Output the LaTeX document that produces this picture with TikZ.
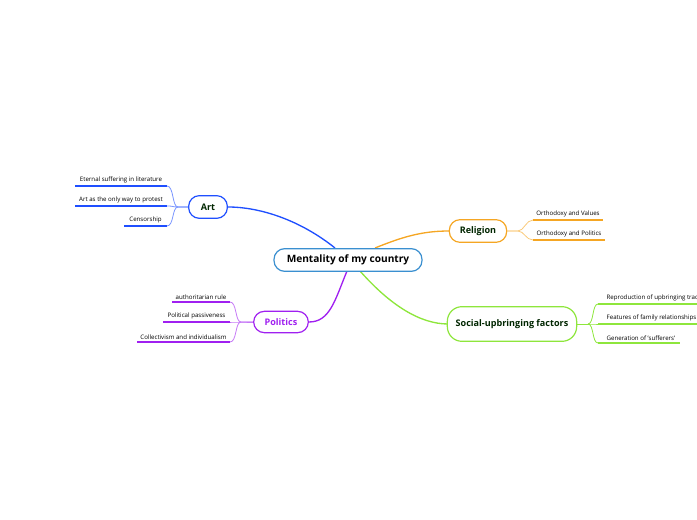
\documentclass[tikz,border=0pt]{standalone}
\usepackage{fontspec}
\setmainfont{Open Sans}
\begin{document}
\begin{tikzpicture}[x=0.75pt,y=-0.75pt,
 main/.style={draw=#1,rounded corners=8pt,line width=0.9pt,fill=white,font=\bfseries\fontsize{6.8}{8}\selectfont,text=black!70!green!50!black,inner sep=0pt},
 leaf/.style={font=\fontsize{4.6}{5.5}\selectfont,anchor=south,inner sep=1.8pt},
 ul/.style={draw=#1,line width=1.2pt},
 br/.style={draw=#1,line width=0.6pt}]
\useasboundingbox (0,0) rectangle (697,520);
\definecolor{cA}{HTML}{1F4FFF}\definecolor{cR}{HTML}{F5A623}
\definecolor{cS}{HTML}{8EE63C}\definecolor{cP}{HTML}{A020F0}\definecolor{cC}{HTML}{3A8FD0}
% main connectors
\coordinate (ca) at (335,248); \coordinate (cr) at (375,248);
\coordinate (cs) at (360,271); \coordinate (cp) at (347,271);
\draw[cA,line width=1pt] (ca) .. controls (300,220) and (260,207) .. (228,207);
\draw[cR,line width=1pt] (cr) .. controls (400,238) and (420,231) .. (449,231);
\draw[cS,line width=1pt] (cs) .. controls (390,305) and (420,324) .. (448,324);
\draw[cP,line width=1pt] (cp) .. controls (335,300) and (330,322) .. (309,322);
\node[main=cC] (c) at (348,260) [minimum width=111pt,minimum height=17pt,font=\bfseries\fontsize{7.6}{9}\selectfont,text=black] {Mentality of my country};
\node[main=cA,minimum width=29pt,minimum height=17pt] (art) at (208,207) {Art};
\node[main=cR,minimum width=43pt,minimum height=17pt] (rel) at (478,231) {Religion};
\node[main=cS,minimum width=97pt,minimum height=26pt,rounded corners=11pt] (soc) at (512,324) {Social-upbringing factors};
\node[main=cP,minimum width=41pt,minimum height=16pt,text=cP] (pol) at (281,322) {Politics};
% Art leaves
\coordinate (ab) at (178,207);
\foreach \y/\l/\t in {186/75/Eternal suffering in literature,206/75/Art as the only way to protest,226/124/Censorship}{
 \draw[br=cA!60] (art.west) -- (ab) .. controls (172,207) and (174,\y) .. (167,\y);
 \draw[ul=cA] (167,\y) -- (\l,\y);
 \node[leaf] at ({(167+\l)/2},\y) {\t};}
% Religion leaves
\coordinate (rb) at (518,231);
\foreach \y/\r/\t in {220/603/Orthodoxy and Values,240/605/Orthodoxy and Politics}{
 \draw[br=cR!60] (rel.east) -- (rb) .. controls (524,231) and (526,\y) .. (533,\y);
 \draw[ul=cR] (533,\y) -- (\r,\y);
 \node[leaf] at ({(533+\r)/2},\y) {\t};}
% Social leaves
\coordinate (sb) at (588,324);
\draw[br=cS] (soc.east) -- (sb);
\foreach \y/\r in {304/697,324/697,343/680}{
 \draw[br=cS] (sb) .. controls (594,324) and (592,\y) .. (598,\y);
 \draw[ul=cS] (598,\y) -- (\r,\y);}
\node[leaf,anchor=south west] at (604,304) {Reproduction of upbringing tradi};
\node[leaf,anchor=south west] at (604,324) {Features of family relationships i};
\node[leaf,anchor=south west] at (604,343) {Generation of 'sufferers'};
% Politics leaves
\coordinate (pb) at (241,322);
\foreach \y/\l/\t in {302/172/authoritarian rule,322/163/Political passiveness,342/137/Collectivism and individualism}{
 \draw[br=cP!60] (pol.west) -- (pb) .. controls (235,322) and (237,\y) .. (230,\y);
 \draw[ul=cP] (230,\y) -- (\l,\y);
 \node[leaf] at ({(230+\l)/2},\y) {\t};}
\end{tikzpicture}
\end{document}
